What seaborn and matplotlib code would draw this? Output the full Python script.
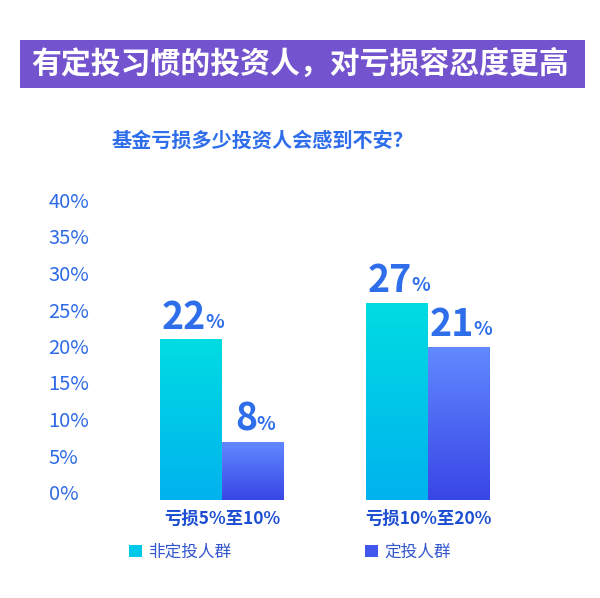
import matplotlib
matplotlib.use("Agg")
import matplotlib.pyplot as plt
from matplotlib.colors import LinearSegmentedColormap
from matplotlib.patches import Rectangle
import numpy as np
import pandas as pd
import seaborn as sns

# data
ranges = ["亏损5%至10%", "亏损10%至20%"]
groups = ["非定投人群", "定投人群"]
non_sip = [22, 27]
sip = [8, 21]
yticks = [0, 5, 10, 15, 20, 25, 30, 35, 40]

title = "有定投习惯的投资人，对亏损容忍度更高"
subtitle = "基金亏损多少投资人会感到不安？"

flat_colors = ["#00C8E8", "#4157EE"]
grad_colors = [("#00DCE2", "#00B2EE"), ("#6189FF", "#3946E6")]
label_blue = "#2F6EEB"
tick_blue = "#2E6BE6"
xlab_blue = "#1B4DD2"

sns.set_theme(style="white")
plt.rcParams["font.family"] = ["Noto Sans CJK SC", "DejaVu Sans"]

df = pd.DataFrame({
    "range": ranges * 2,
    "group": [groups[0]] * 2 + [groups[1]] * 2,
    "value": non_sip + sip,
})

fig = plt.figure(figsize=(6, 5.98), dpi=100)
W, H = 600, 598
ax = fig.add_axes([100 / W, 98 / H, 460 / W, 292 / H])

sns.barplot(data=df, x="range", y="value", hue="group", hue_order=groups,
            palette=flat_colors, width=0.6, ax=ax, legend=False, saturation=1)
sns.despine(ax=ax, left=True, bottom=True)

# gradient fill for each bar
for container, (top, bottom) in zip(ax.containers, grad_colors):
    cmap = LinearSegmentedColormap.from_list("g", [bottom, top])
    for bar in container:
        x0, y0 = bar.get_x(), bar.get_y()
        w, h = bar.get_width(), bar.get_height()
        grad = np.linspace(0, 1, 100).reshape(-1, 1)
        im = ax.imshow(grad, cmap=cmap, origin="lower", aspect="auto",
                       extent=[x0, x0 + w, y0, y0 + h], zorder=bar.get_zorder() + 0.1)
        im.set_clip_path(bar)
        # value label: big number + small percent sign
        num = ax.annotate(f"{int(h)}", xy=(x0 + w / 2, h), xytext=(-5, 2),
                          textcoords="offset points", ha="center", va="bottom",
                          fontsize=27, fontweight="heavy", color=label_blue)
        ax.annotate("%", xy=(1, 0.13), xycoords=num, xytext=(-0.5, 0),
                    textcoords="offset points", ha="left", va="bottom",
                    fontsize=14, fontweight="bold", color=label_blue)
ax.set_xlim((100 - 222) / 206, (560 - 222) / 206)
ax.set_ylim(0, 40)

ax.set_yticks(yticks)
ax.set_yticklabels([f"{t}%" for t in yticks], fontsize=14.5, color=tick_blue,
                   fontweight="medium", ha="left", va="baseline")
ax.tick_params(axis="y", length=0, pad=37)
ax.tick_params(axis="x", length=0, pad=7)
ax.set_xticks([0, 1])
ax.set_xticklabels(ranges, fontsize=12.5, fontweight="bold", color=xlab_blue)
ax.set_xlabel("")
ax.set_ylabel("")

# banner title
fig.patches.append(Rectangle((20 / W, 1 - 88 / H), 565 / W, 48 / H,
                             transform=fig.transFigure, facecolor="#7453CE",
                             edgecolor="none", zorder=0))
fig.text(300 / W, 1 - 64 / H, title, ha="center", va="center",
         fontsize=21.5, fontweight="bold", color="white")
fig.text(262 / W, 1 - 140 / H, subtitle, ha="center", va="center",
         fontsize=14.5, fontweight="bold", color=label_blue)

# legend
handles = [Rectangle((0, 0), 1, 1, facecolor=c, edgecolor="none") for c in flat_colors]
leg = fig.legend(handles, groups, loc="center left", bbox_to_anchor=(114 / W, 1 - 552 / H),
                 ncol=2, frameon=False, handlelength=0.75, handleheight=0.75,
                 handletextpad=0.4, columnspacing=8.05,
                 prop={"size": 12, "family": ["Noto Sans CJK SC", "DejaVu Sans"]})
for t in leg.get_texts():
    t.set_color("#3356CC")

fig.savefig("out.png", dpi=100)
